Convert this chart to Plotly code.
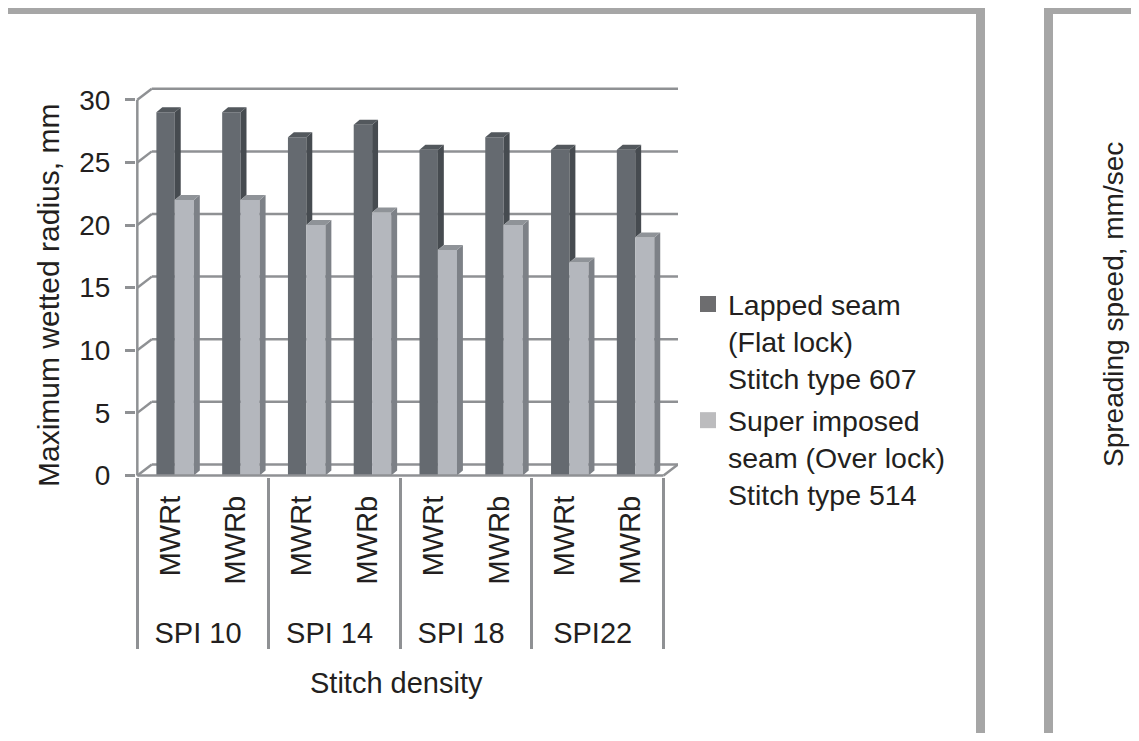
import plotly.graph_objects as go

# data
groups = ["SPI 10", "SPI 10", "SPI 14", "SPI 14", "SPI 18", "SPI 18", "SPI22", "SPI22"]
sides = ["MWRt", "MWRb", "MWRt", "MWRb", "MWRt", "MWRb", "MWRt", "MWRb"]
lapped = [29, 29, 27, 28, 26, 27, 26, 26]
superimposed = [22, 22, 20, 21, 18, 20, 17, 19]
y_ticks = [0, 5, 10, 15, 20, 25, 30]
series_names = [
    "Lapped seam<br>(Flat lock)<br>Stitch type 607",
    "Super imposed<br>seam (Over lock)<br>Stitch type 514",
]

PAGE_W, PAGE_H = 1139, 741
OFF = 8  # default body margin of the html page
W, H = PAGE_W - OFF, PAGE_H - 2 * OFF
# plot area, in page pixels
LEFT, RIGHT, TOP, BOTTOM = 136, 678, 86, 477

DX, DY = 0.22, 0.88          # depth of the walls (axis units)
BAR_DX, BAR_DY = 0.09, 0.4   # depth of each column
X_RANGE = [-0.52, 7.5 + DX]
Y_RANGE = [-0.12, 31.1]

FONT = "Liberation Sans, Arial, sans-serif"
TXT = "#231f20"
GRID = "#8f9194"
FRAME = "#a6a6a6"

DARK = dict(front="#656a70", side="#464b50", top="#53585d", key="#6d6d6f")
LIGHT = dict(front="#b4b7bd", side="#7d8187", top="#8f9398", key="#bcbcbe")
DARK_OFF, DARK_W = -0.21, 0.28
LIGHT_OFF, LIGHT_W = 0.07, 0.29

# padding so the second label row sits lower, as in the picture
PAD = "\u00a0\u00a0"


def px_x(p):
    return (p - LEFT) / (RIGHT - LEFT)


def px_y(p):
    return (BOTTOM - p) / (BOTTOM - TOP)


def faces(values, lower, offset, width):
    """side and top faces of the columns, built from the values"""
    sx, sy, tx, ty = [], [], [], []
    for i, (v, lo) in enumerate(zip(values, lower)):
        x0 = i + offset
        x1 = x0 + width
        sx += [x1, x1 + BAR_DX, x1 + BAR_DX, x1, None]
        sy += [lo, lo + BAR_DY, v + BAR_DY, v, None]
        tx += [x0, x0 + BAR_DX, x1 + BAR_DX, x1, None]
        ty += [v, v + BAR_DY, v + BAR_DY, v, None]
    return (sx, sy), (tx, ty)


def face_trace(xy, color):
    return go.Scatter(
        x=xy[0], y=xy[1], xaxis="x2", yaxis="y",
        mode="none", fill="toself", fillcolor=color,
        showlegend=False, hoverinfo="skip",
    )


def label(text, x, y, size, angle=0):
    return dict(
        text=text, textangle=angle, xref="paper", yref="paper",
        x=px_x(x), y=px_y(y), xanchor="center", yanchor="middle",
        showarrow=False, font=dict(size=size, color=TXT),
    )


fig = go.Figure()

fig.add_trace(go.Bar(
    x=[groups, sides], y=lapped, name=series_names[0], showlegend=False,
    offset=DARK_OFF, width=DARK_W,
    marker=dict(color=DARK["front"], line=dict(width=0)),
))
fig.add_trace(go.Bar(
    x=[groups, sides], y=superimposed, name=series_names[1], showlegend=False,
    offset=LIGHT_OFF, width=LIGHT_W,
    marker=dict(color=LIGHT["front"], line=dict(width=0)),
))

# 3D look: dark side only shows above the light column
dark_side, dark_top = faces(lapped, superimposed, DARK_OFF, DARK_W)
light_side, light_top = faces(superimposed, [0] * len(superimposed), LIGHT_OFF, LIGHT_W)
fig.add_trace(face_trace(dark_side, DARK["side"]))
fig.add_trace(face_trace(dark_top, DARK["top"]))
fig.add_trace(face_trace(light_side, LIGHT["side"]))
fig.add_trace(face_trace(light_top, LIGHT["top"]))

# legend keys (bigger squares than the bar legend gives)
for i, (name, col) in enumerate(zip(series_names, [DARK["key"], LIGHT["key"]])):
    fig.add_trace(go.Scatter(
        x=[None], y=[None], xaxis="x2", mode="markers", name=name,
        legendgroup=f"g{i}",
        marker=dict(symbol="square", size=16, color=col),
    ))

shapes = []
line = dict(color=GRID, width=2.5)
# back wall grid + side wall diagonals
for v in y_ticks:
    shapes.append(dict(type="line", xref="x", yref="y", layer="below",
                       x0=-0.5, y0=v, x1=-0.5 + DX, y1=v + DY, line=line))
    shapes.append(dict(type="line", xref="x", yref="y", layer="below",
                       x0=-0.5 + DX, y0=v + DY, x1=7.5 + DX, y1=v + DY, line=line))
# front axis line and floor edges
shapes.append(dict(type="line", xref="x", yref="y", x0=-0.5, y0=0, x1=-0.5, y1=y_ticks[-1], line=line))
shapes.append(dict(type="line", xref="x", yref="y", x0=-0.5, y0=0, x1=7.5, y1=0, line=line))
shapes.append(dict(type="line", xref="x", yref="y", x0=7.5, y0=0, x1=7.5 + DX, y1=DY, line=line))

# grey panel frames of the page
frame = dict(color=FRAME, width=9)
shapes += [
    dict(type="line", xref="paper", yref="paper", x0=px_x(-5), y0=px_y(9.5), x1=px_x(985), y1=px_y(9.5), line=frame),
    dict(type="line", xref="paper", yref="paper", x0=px_x(980.5), y0=px_y(5), x1=px_x(980.5), y1=px_y(760), line=frame),
    dict(type="line", xref="paper", yref="paper", x0=px_x(1048.5), y0=px_y(5), x1=px_x(1048.5), y1=px_y(760), line=frame),
    dict(type="line", xref="paper", yref="paper", x0=px_x(1044), y0=px_y(9.5), x1=px_x(1160), y1=px_y(9.5), line=frame),
]

fig.update_layout(
    width=W, height=H,
    margin=dict(l=LEFT - OFF, r=W - (RIGHT - OFF), t=TOP - OFF, b=H - (BOTTOM - OFF)),
    paper_bgcolor="white", plot_bgcolor="white",
    font=dict(family=FONT, size=29, color=TXT),
    barmode="group",
    shapes=shapes,
    showlegend=True,
    legend=dict(
        x=px_x(688), y=px_y(279), xanchor="left", yanchor="top",
        font=dict(size=28.5, color=TXT), bgcolor="rgba(0,0,0,0)",
        valign="top", tracegroupgap=2, itemsizing="trace",
    ),
    xaxis=dict(
        type="multicategory", range=X_RANGE,
        tickangle=-90, tickfont=dict(size=29, color=TXT),
        labelalias={s: PAD + s for s in set(sides)},
        showgrid=False, showline=False, zeroline=False, ticks="",
        ticklabelstandoff=12,
        showdividers=True, dividercolor=GRID, dividerwidth=2.5,
    ),
    xaxis2=dict(overlaying="x", range=X_RANGE, visible=False),
    yaxis=dict(
        range=Y_RANGE, tickvals=y_ticks,
        ticks="outside", ticklen=10, tickwidth=2.5, tickcolor=GRID,
        showgrid=False, showline=False, zeroline=False,
        tickfont=dict(size=28, color=TXT), ticklabelstandoff=9,
    ),
    annotations=[
        label("Maximum wetted radius, mm", 48, 296, 30, -90),
        label("Stitch density", 396, 683, 29),
        label("Spreading speed, mm/sec", 1113, 305, 28, -90),
    ],
)

fig.write_html("out.html")
